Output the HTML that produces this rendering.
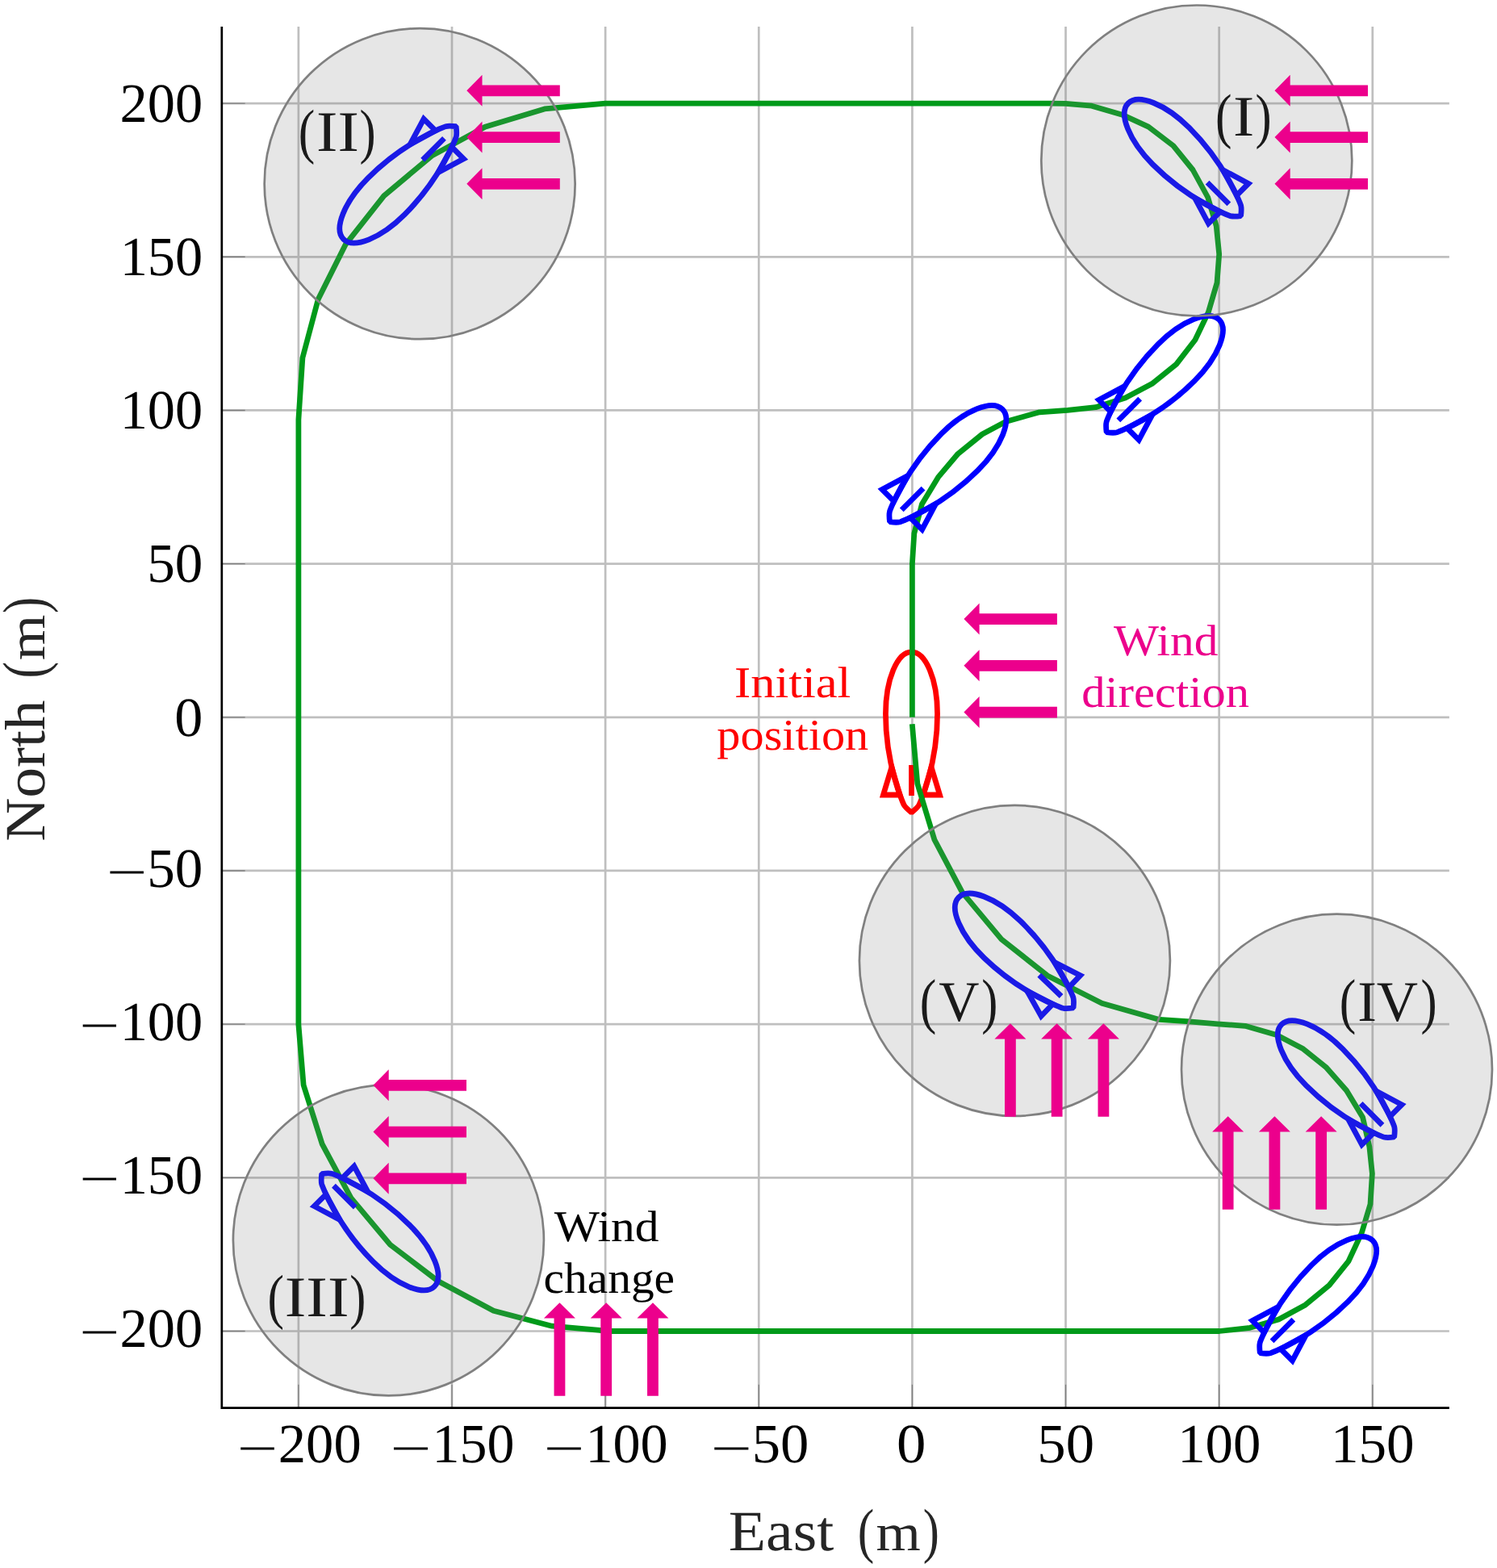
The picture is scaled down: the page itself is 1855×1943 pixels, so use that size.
<!DOCTYPE html>
<html lang="en">
<head>
<meta charset="utf-8">
<title>Airship trajectory: North (m) vs East (m)</title>
<style>html,body{margin:0;padding:0;background:#fff}body{width:1855px;height:1943px;overflow:hidden}svg{display:block}</style>
</head>
<body>
<svg xmlns="http://www.w3.org/2000/svg" width="1855" height="1943" viewBox="0 0 1855 1943" font-family="'Liberation Serif', 'DejaVu Serif', serif" text-rendering="geometricPrecision">
<rect width="1855" height="1943" fill="#fff"/>
<path d="M369.88 33.01V1744.59M560.01 33.01V1744.59M750.14 33.01V1744.59M940.27 33.01V1744.59M1130.4 33.01V1744.59M1320.53 33.01V1744.59M1510.66 33.01V1744.59M1700.79 33.01V1744.59M274.82 1649.5H1795.86M274.82 1459.32H1795.86M274.82 1269.15H1795.86M274.82 1078.97H1795.86M274.82 888.8H1795.86M274.82 698.62H1795.86M274.82 508.45H1795.86M274.82 318.27H1795.86M274.82 128.1H1795.86" stroke="#bfbfbf" stroke-width="2.71" fill="none"/>
<path d="M369.88 1744.59v-28.88M560.01 1744.59v-28.88M750.14 1744.59v-28.88M940.27 1744.59v-28.88M1130.4 1744.59v-28.88M1320.53 1744.59v-28.88M1510.66 1744.59v-28.88M1700.79 1744.59v-28.88M274.82 1649.5h28.88M274.82 1459.32h28.88M274.82 1269.15h28.88M274.82 1078.97h28.88M274.82 888.8h28.88M274.82 698.62h28.88M274.82 508.45h28.88M274.82 318.27h28.88M274.82 128.1h28.88" stroke="#808080" stroke-width="1.35" fill="none"/>
<path d="M274.82 33.01V1744.59H1795.86" stroke="#000" stroke-width="2.71" fill="none" stroke-linejoin="miter" stroke-linecap="butt"/>
<g transform="translate(1129.5 888.8) rotate(-90)" stroke="#ff0000" stroke-width="6.77" fill="none" stroke-linejoin="miter" stroke-miterlimit="10"><path d="M-96.2 35L-61.9 24.6L-96.2 14.4ZM-96.2 -35L-61.9 -24.6L-96.2 -14.4ZM-59.2 0H-97.1"/><path d="M4.4 -32.05A76.5 32.05 0 0 1 80.9 0A76.5 32.05 0 0 1 4.4 32.05C-60.8 32.05 -108.37 9.45 -108.8 9.2Q-112.42 7.07 -117.9 0Q-112.42 -7.07 -108.8 -9.2C-108.37 -9.45 -60.8 -32.05 4.4 -32.05Z" stroke-linejoin="bevel"/></g>
<path d="M1130.4 888.8L1130.4 698.6L1132.8 661.2L1142.5 624.4L1162.5 591.4L1187.1 562.3L1217.2 538L1246.3 522.5L1288 510.8L1322.7 508.3L1357.6 504.7L1394.5 493.1L1427.5 475.6L1457.6 451.4L1480.9 421.3L1497.3 387L1508 350.5L1510.7 315L1507.2 280L1496.7 244.5L1478.1 210.5L1453.9 180.6L1423.1 157.1L1391.6 142.6L1352.8 131.2L1320.5 128.3L1300 128.1L750.1 128.1L674.8 134.9L601 157.2L535 193.1L475.8 242.6L428.3 302.8L394.3 370.7L374.9 443.5L369.9 520L369.9 1269.6L376.1 1344.4L399.3 1417.9L434.9 1484.3L483.5 1542.4L542.8 1587.5L611.6 1624.3L683.9 1643.2L743.2 1648.4L750 1649.5L1511 1649.5L1548.9 1645.3L1584.4 1634.9L1617.6 1616.9L1647.1 1592.7L1670.8 1563.2L1687.4 1527.6L1698 1492.1L1700.4 1454.3L1696.9 1421.1L1688.6 1384.4L1668.5 1351.3L1643.6 1322.9L1614 1299.2L1582 1282.6L1543 1271.3L1508.7 1268.9L1470.8 1265.6L1436.6 1263.4L1365.5 1243.3L1297.9 1208.9L1240.9 1163.8L1192.3 1105.7L1157.9 1040.5L1136.8 970.9L1130.3 897.3" stroke="#009a1a" stroke-width="6.77" fill="none" stroke-linejoin="round" stroke-linecap="butt"/>
<g transform="translate(1185.9 563.3) rotate(-45)" stroke="#0000ff" stroke-width="6.77" fill="none" stroke-linejoin="miter" stroke-miterlimit="10"><path d="M-96.2 35L-61.9 24.6L-96.2 14.4ZM-96.2 -35L-61.9 -24.6L-96.2 -14.4ZM-59.2 0H-97.1"/><path d="M4.4 -32.05A75.1 32.05 0 0 1 79.5 0A75.1 32.05 0 0 1 4.4 32.05C-60.8 32.05 -108.37 9.45 -108.8 9.2Q-112.42 7.07 -117.9 0Q-112.42 -7.07 -108.8 -9.2C-108.37 -9.45 -60.8 -32.05 4.4 -32.05Z" stroke-linejoin="bevel"/></g>
<g transform="translate(1454.5 452.3) rotate(-45)" stroke="#0000ff" stroke-width="6.77" fill="none" stroke-linejoin="miter" stroke-miterlimit="10"><path d="M-96.2 35L-61.9 24.6L-96.2 14.4ZM-96.2 -35L-61.9 -24.6L-96.2 -14.4ZM-59.2 0H-97.1"/><path d="M4.4 -32.05A75.1 32.05 0 0 1 79.5 0A75.1 32.05 0 0 1 4.4 32.05C-60.8 32.05 -108.37 9.45 -108.8 9.2Q-112.42 7.07 -117.9 0Q-112.42 -7.07 -108.8 -9.2C-108.37 -9.45 -60.8 -32.05 4.4 -32.05Z" stroke-linejoin="bevel"/></g>
<g transform="translate(1454.2 184.2) rotate(-135)" stroke="#0000ff" stroke-width="6.77" fill="none" stroke-linejoin="miter" stroke-miterlimit="10"><path d="M-96.2 35L-61.9 24.6L-96.2 14.4ZM-96.2 -35L-61.9 -24.6L-96.2 -14.4ZM-59.2 0H-97.1"/><path d="M4.4 -32.05A75.1 32.05 0 0 1 79.5 0A75.1 32.05 0 0 1 4.4 32.05C-60.8 32.05 -108.37 9.45 -108.8 9.2Q-112.42 7.07 -117.9 0Q-112.42 -7.07 -108.8 -9.2C-108.37 -9.45 -60.8 -32.05 4.4 -32.05Z" stroke-linejoin="bevel"/></g>
<g transform="translate(481.8 240.1) rotate(-225)" stroke="#0000ff" stroke-width="6.77" fill="none" stroke-linejoin="miter" stroke-miterlimit="10"><path d="M-96.2 35L-61.9 24.6L-96.2 14.4ZM-96.2 -35L-61.9 -24.6L-96.2 -14.4ZM-59.2 0H-97.1"/><path d="M4.4 -32.05A75.1 32.05 0 0 1 79.5 0A75.1 32.05 0 0 1 4.4 32.05C-60.8 32.05 -108.37 9.45 -108.8 9.2Q-112.42 7.07 -117.9 0Q-112.42 -7.07 -108.8 -9.2C-108.37 -9.45 -60.8 -32.05 4.4 -32.05Z" stroke-linejoin="bevel"/></g>
<g transform="translate(482.1 1537.9) rotate(-315)" stroke="#0000ff" stroke-width="6.77" fill="none" stroke-linejoin="miter" stroke-miterlimit="10"><path d="M-96.2 35L-61.9 24.6L-96.2 14.4ZM-96.2 -35L-61.9 -24.6L-96.2 -14.4ZM-59.2 0H-97.1"/><path d="M4.4 -32.05A75.1 32.05 0 0 1 79.5 0A75.1 32.05 0 0 1 4.4 32.05C-60.8 32.05 -108.37 9.45 -108.8 9.2Q-112.42 7.07 -117.9 0Q-112.42 -7.07 -108.8 -9.2C-108.37 -9.45 -60.8 -32.05 4.4 -32.05Z" stroke-linejoin="bevel"/></g>
<g transform="translate(1644.7 1593.3) rotate(-45)" stroke="#0000ff" stroke-width="6.77" fill="none" stroke-linejoin="miter" stroke-miterlimit="10"><path d="M-96.2 35L-61.9 24.6L-96.2 14.4ZM-96.2 -35L-61.9 -24.6L-96.2 -14.4ZM-59.2 0H-97.1"/><path d="M4.4 -32.05A75.1 32.05 0 0 1 79.5 0A75.1 32.05 0 0 1 4.4 32.05C-60.8 32.05 -108.37 9.45 -108.8 9.2Q-112.42 7.07 -117.9 0Q-112.42 -7.07 -108.8 -9.2C-108.37 -9.45 -60.8 -32.05 4.4 -32.05Z" stroke-linejoin="bevel"/></g>
<g transform="translate(1644.3 1325.6) rotate(-135)" stroke="#0000ff" stroke-width="6.77" fill="none" stroke-linejoin="miter" stroke-miterlimit="10"><path d="M-96.2 35L-61.9 24.6L-96.2 14.4ZM-96.2 -35L-61.9 -24.6L-96.2 -14.4ZM-59.2 0H-97.1"/><path d="M4.4 -32.05A75.1 32.05 0 0 1 79.5 0A75.1 32.05 0 0 1 4.4 32.05C-60.8 32.05 -108.37 9.45 -108.8 9.2Q-112.42 7.07 -117.9 0Q-112.42 -7.07 -108.8 -9.2C-108.37 -9.45 -60.8 -32.05 4.4 -32.05Z" stroke-linejoin="bevel"/></g>
<g transform="translate(1245.1 1167.2) rotate(-136.1)" stroke="#0000ff" stroke-width="6.77" fill="none" stroke-linejoin="miter" stroke-miterlimit="10"><path d="M-96.2 35L-61.9 24.6L-96.2 14.4ZM-96.2 -35L-61.9 -24.6L-96.2 -14.4ZM-59.2 0H-97.1"/><path d="M4.4 -32.05A75.1 32.05 0 0 1 79.5 0A75.1 32.05 0 0 1 4.4 32.05C-60.8 32.05 -108.37 9.45 -108.8 9.2Q-112.42 7.07 -117.9 0Q-112.42 -7.07 -108.8 -9.2C-108.37 -9.45 -60.8 -32.05 4.4 -32.05Z" stroke-linejoin="bevel"/></g>
<text fill="#000"><tspan x="1505.93" y="169.21" font-size="75.67" textLength="20.51" lengthAdjust="spacingAndGlyphs">(</tspan><tspan x="1528.14" y="168.1" font-size="71.08" textLength="26.27" lengthAdjust="spacingAndGlyphs">I</tspan><tspan x="1555.49" y="169.21" font-size="75.67" textLength="20.11" lengthAdjust="spacingAndGlyphs">)</tspan></text>
<text fill="#000"><tspan x="369.83" y="187.96" font-size="75.44" textLength="20.51" lengthAdjust="spacingAndGlyphs">(</tspan><tspan x="392.02" y="186.9" font-size="71.08" textLength="52.83" lengthAdjust="spacingAndGlyphs">II</tspan><tspan x="445.39" y="187.96" font-size="75.44" textLength="20.11" lengthAdjust="spacingAndGlyphs">)</tspan></text>
<text fill="#000"><tspan x="331.53" y="1632.16" font-size="75.44" textLength="20.51" lengthAdjust="spacingAndGlyphs">(</tspan><tspan x="352.81" y="1631" font-size="71.08" textLength="79.71" lengthAdjust="spacingAndGlyphs">III</tspan><tspan x="433.19" y="1632.16" font-size="75.44" textLength="20.11" lengthAdjust="spacingAndGlyphs">)</tspan></text>
<text fill="#000"><tspan x="1659.83" y="1266.14" font-size="76" textLength="20.51" lengthAdjust="spacingAndGlyphs">(</tspan><tspan x="1682.22" y="1264.9" font-size="71.08" textLength="74.91" lengthAdjust="spacingAndGlyphs">IV</tspan><tspan x="1760.49" y="1266.14" font-size="76" textLength="20.11" lengthAdjust="spacingAndGlyphs">)</tspan></text>
<text fill="#000"><tspan x="1139.83" y="1266.14" font-size="76" textLength="20.51" lengthAdjust="spacingAndGlyphs">(</tspan><tspan x="1163.2" y="1264.9" font-size="71.08" textLength="50.24" lengthAdjust="spacingAndGlyphs">V</tspan><tspan x="1216.29" y="1266.14" font-size="76" textLength="20.11" lengthAdjust="spacingAndGlyphs">)</tspan></text>
<circle cx="1482.8" cy="199" r="192.5" fill="#808080" fill-opacity="0.2" stroke="#808080" stroke-width="2.71"/>
<circle cx="520.15" cy="227.7" r="192.5" fill="#808080" fill-opacity="0.2" stroke="#808080" stroke-width="2.71"/>
<circle cx="481.4" cy="1536.9" r="192.5" fill="#808080" fill-opacity="0.2" stroke="#808080" stroke-width="2.71"/>
<circle cx="1656.5" cy="1325.2" r="192.5" fill="#808080" fill-opacity="0.2" stroke="#808080" stroke-width="2.71"/>
<circle cx="1257.4" cy="1190.4" r="192.5" fill="#808080" fill-opacity="0.2" stroke="#808080" stroke-width="2.71"/>
<path d="M1579.5 112.3L1598.7 92.8L1598.7 105.4L1695 105.4L1695 119.2L1598.7 119.2L1598.7 131.8ZM1579.5 170.05L1598.7 150.55L1598.7 163.15L1695 163.15L1695 176.95L1598.7 176.95L1598.7 189.55ZM1579.5 227.8L1598.7 208.3L1598.7 220.9L1695 220.9L1695 234.7L1598.7 234.7L1598.7 247.3ZM578.3 112.35L597.5 92.85L597.5 105.45L693.8 105.45L693.8 119.25L597.5 119.25L597.5 131.85ZM578.3 170.1L597.5 150.6L597.5 163.2L693.8 163.2L693.8 177L597.5 177L597.5 189.6ZM578.3 227.85L597.5 208.35L597.5 220.95L693.8 220.95L693.8 234.75L597.5 234.75L597.5 247.35ZM1194.4 767.05L1213.6 747.55L1213.6 760.15L1309.9 760.15L1309.9 773.95L1213.6 773.95L1213.6 786.55ZM1194.4 824.8L1213.6 805.3L1213.6 817.9L1309.9 817.9L1309.9 831.7L1213.6 831.7L1213.6 844.3ZM1194.4 882.55L1213.6 863.05L1213.6 875.65L1309.9 875.65L1309.9 889.45L1213.6 889.45L1213.6 902.05ZM462.5 1344.85L481.7 1325.35L481.7 1337.95L578 1337.95L578 1351.75L481.7 1351.75L481.7 1364.35ZM462.5 1402.6L481.7 1383.1L481.7 1395.7L578 1395.7L578 1409.5L481.7 1409.5L481.7 1422.1ZM462.5 1460.35L481.7 1440.85L481.7 1453.45L578 1453.45L578 1467.25L481.7 1467.25L481.7 1479.85ZM693.45 1614.2L712.95 1633.4L700.35 1633.4L700.35 1729.7L686.55 1729.7L686.55 1633.4L673.95 1633.4ZM751.2 1614.2L770.7 1633.4L758.1 1633.4L758.1 1729.7L744.3 1729.7L744.3 1633.4L731.7 1633.4ZM808.95 1614.2L828.45 1633.4L815.85 1633.4L815.85 1729.7L802.05 1729.7L802.05 1633.4L789.45 1633.4ZM1251.9 1268.2L1271.4 1287.4L1258.8 1287.4L1258.8 1383.7L1245 1383.7L1245 1287.4L1232.4 1287.4ZM1309.65 1268.2L1329.15 1287.4L1316.55 1287.4L1316.55 1383.7L1302.75 1383.7L1302.75 1287.4L1290.15 1287.4ZM1367.4 1268.2L1386.9 1287.4L1374.3 1287.4L1374.3 1383.7L1360.5 1383.7L1360.5 1287.4L1347.9 1287.4ZM1521.65 1383.2L1541.15 1402.4L1528.55 1402.4L1528.55 1498.7L1514.75 1498.7L1514.75 1402.4L1502.15 1402.4ZM1579.4 1383.2L1598.9 1402.4L1586.3 1402.4L1586.3 1498.7L1572.5 1498.7L1572.5 1402.4L1559.9 1402.4ZM1637.15 1383.2L1656.65 1402.4L1644.05 1402.4L1644.05 1498.7L1630.25 1498.7L1630.25 1402.4L1617.65 1402.4Z" fill="#ec008c"/>
<text fill="#ff0000"><tspan x="910.09" y="863.9" font-size="54.49" textLength="144.31" lengthAdjust="spacingAndGlyphs">Initial</tspan> <tspan x="888.33" y="929" font-size="54.49" textLength="187.9" lengthAdjust="spacingAndGlyphs">position</tspan></text>
<text fill="#ec008c"><tspan x="1380" y="811.7" font-size="54.49" textLength="129.39" lengthAdjust="spacingAndGlyphs">Wind</tspan> <tspan x="1340.15" y="876" font-size="54.49" textLength="207.78" lengthAdjust="spacingAndGlyphs">direction</tspan></text>
<text fill="#000"><tspan x="686.8" y="1537.7" font-size="54.49" textLength="129.79" lengthAdjust="spacingAndGlyphs">Wind</tspan> <tspan x="673.5" y="1602" font-size="54.49" textLength="162.6" lengthAdjust="spacingAndGlyphs">change</tspan></text>
<text fill="#000"><tspan x="148.62" y="150.81" font-size="68.74" textLength="102.61" lengthAdjust="spacingAndGlyphs">200</tspan></text>
<text fill="#000"><tspan x="148.64" y="340.99" font-size="68.74" textLength="102.59" lengthAdjust="spacingAndGlyphs">150</tspan></text>
<text fill="#000"><tspan x="148.64" y="531.16" font-size="68.74" textLength="102.59" lengthAdjust="spacingAndGlyphs">100</tspan></text>
<text fill="#000"><tspan x="182.15" y="721.34" font-size="68.74" textLength="69.11" lengthAdjust="spacingAndGlyphs">50</tspan></text>
<text fill="#000"><tspan x="216.19" y="911.51" font-size="68.74" textLength="35.12" lengthAdjust="spacingAndGlyphs">0</tspan></text>
<text fill="#000"><tspan x="131.94" y="1100.57" font-size="60" textLength="50.33" lengthAdjust="spacingAndGlyphs">−</tspan><tspan x="182.15" y="1098.79" font-size="68.74" textLength="69.11" lengthAdjust="spacingAndGlyphs">50</tspan></text>
<text fill="#000"><tspan x="98.26" y="1290.75" font-size="60" textLength="50.09" lengthAdjust="spacingAndGlyphs">−</tspan><tspan x="148.64" y="1288.96" font-size="68.74" textLength="102.59" lengthAdjust="spacingAndGlyphs">100</tspan></text>
<text fill="#000"><tspan x="98.26" y="1480.92" font-size="60" textLength="50.09" lengthAdjust="spacingAndGlyphs">−</tspan><tspan x="148.64" y="1479.14" font-size="68.74" textLength="102.59" lengthAdjust="spacingAndGlyphs">150</tspan></text>
<text fill="#000"><tspan x="98.26" y="1671.1" font-size="60" textLength="50.09" lengthAdjust="spacingAndGlyphs">−</tspan><tspan x="148.62" y="1669.31" font-size="68.74" textLength="102.61" lengthAdjust="spacingAndGlyphs">200</tspan></text>
<text fill="#000"><tspan x="293.83" y="1814.7" font-size="60" textLength="50.46" lengthAdjust="spacingAndGlyphs">−</tspan><tspan x="344.81" y="1812.41" font-size="68.74" textLength="102.93" lengthAdjust="spacingAndGlyphs">200</tspan></text>
<text fill="#000"><tspan x="483.58" y="1814.7" font-size="60" textLength="50.94" lengthAdjust="spacingAndGlyphs">−</tspan><tspan x="535.48" y="1812.41" font-size="68.74" textLength="101.93" lengthAdjust="spacingAndGlyphs">150</tspan></text>
<text fill="#000"><tspan x="673.83" y="1814.7" font-size="60" textLength="50.46" lengthAdjust="spacingAndGlyphs">−</tspan><tspan x="725.46" y="1812.41" font-size="68.74" textLength="102.26" lengthAdjust="spacingAndGlyphs">100</tspan></text>
<text fill="#000"><tspan x="880.77" y="1814.7" font-size="60" textLength="51.06" lengthAdjust="spacingAndGlyphs">−</tspan><tspan x="931.76" y="1812.41" font-size="68.74" textLength="70.67" lengthAdjust="spacingAndGlyphs">50</tspan></text>
<text fill="#000"><tspan x="1110.99" y="1812.41" font-size="68.74" textLength="36.43" lengthAdjust="spacingAndGlyphs">0</tspan></text>
<text fill="#000"><tspan x="1285.35" y="1812.41" font-size="68.74" textLength="70.78" lengthAdjust="spacingAndGlyphs">50</tspan></text>
<text fill="#000"><tspan x="1459.21" y="1812.41" font-size="68.74" textLength="103.25" lengthAdjust="spacingAndGlyphs">100</tspan></text>
<text fill="#000"><tspan x="1648.98" y="1812.41" font-size="68.74" textLength="103.69" lengthAdjust="spacingAndGlyphs">150</tspan></text>
<text fill="#262626"><tspan x="902.73" y="1920.7" font-size="70.62" textLength="130.48" lengthAdjust="spacingAndGlyphs">East</tspan> <tspan x="1062.63" y="1922.18" font-size="75.33" textLength="20.51" lengthAdjust="spacingAndGlyphs">(</tspan><tspan x="1085.58" y="1920.7" font-size="65.11" textLength="55.29" lengthAdjust="spacingAndGlyphs">m</tspan><tspan x="1143.69" y="1922.18" font-size="75.33" textLength="20.11" lengthAdjust="spacingAndGlyphs">)</tspan></text>
<text fill="#262626" transform="translate(55.3 0) rotate(-90)"><tspan x="-1042.75" y="0" font-size="70.62" textLength="175.23" lengthAdjust="spacingAndGlyphs">North</tspan> <tspan x="-840.47" y="0.96" font-size="75.89" textLength="20.51" lengthAdjust="spacingAndGlyphs">(</tspan><tspan x="-818.15" y="0" font-size="65.11" textLength="56.55" lengthAdjust="spacingAndGlyphs">m</tspan><tspan x="-759.91" y="0.96" font-size="75.89" textLength="20.11" lengthAdjust="spacingAndGlyphs">)</tspan></text>
</svg>
</body>
</html>
